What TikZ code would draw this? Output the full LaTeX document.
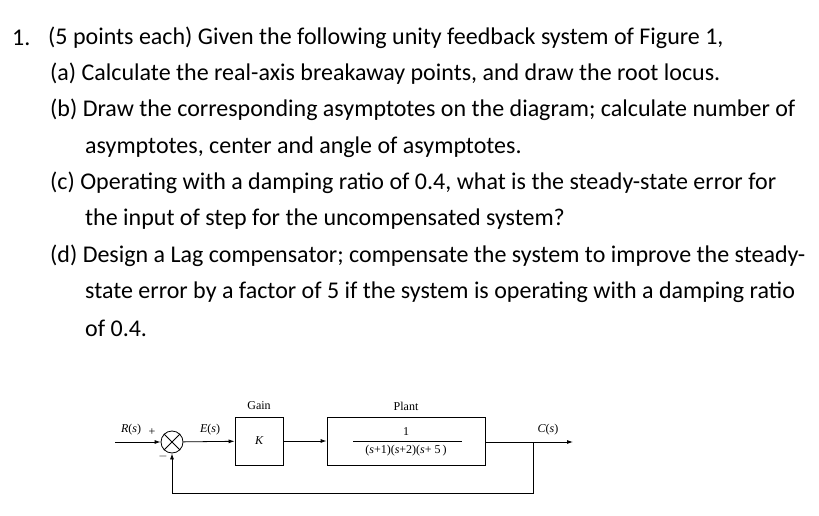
\documentclass[tikz,border=0pt]{standalone}
\usepackage{fontspec}
\setmainfont{Carlito}
\newfontfamily\tms{Liberation Serif}
\usetikzlibrary{arrows.meta}
\begin{document}
\begin{tikzpicture}[x=1pt,y=-1pt,
  txt/.style={anchor=west,inner sep=0pt,font=\fontsize{24}{28}\selectfont},
  dg/.style={inner sep=1pt,font=\tms\fontsize{12}{14}\selectfont},
  blk/.style={draw,line width=0.8pt},
  sig/.style={line width=0.8pt,-{Latex[length=6pt,width=4pt]}},
  ln/.style={line width=0.8pt}]
\useasboundingbox (0,0) rectangle (819,516);
\node[txt] (n1) at (12,38) {1.};
\node[txt] (l1) at (48,38) {(5 points each) Given the following unity feedback system of Figure 1,};
\node[txt] (l2) at (50,74) {(a) Calculate the real-axis breakaway points, and draw the root locus.};
\node[txt] (l3) at (50,110) {(b) Draw the corresponding asymptotes on the diagram; calculate number of};
\node[txt] (l4) at (85,147) {asymptotes, center and angle of asymptotes.};
\node[txt] (l5) at (50,183) {(c) Operating with a damping ratio of 0.4, what is the steady-state error for};
\node[txt] (l6) at (85,219) {the input of step for the uncompensated system?};
\node[txt] (l7) at (50,256) {(d) Design a Lag compensator; compensate the system to improve the steady-};
\node[txt] (l8) at (85,292) {state error by a factor of 5 if the system is operating with a damping ratio};
\node[txt] (l9) at (85,328) {of 0.4.};
% diagram
\coordinate (in) at (115,442);
\node[draw,circle,minimum size=22pt,inner sep=0pt,line width=0.8pt] (sum) at (172,442) {};
\draw[ln] (sum.45) -- (sum.225) (sum.135) -- (sum.315);
\node[blk,minimum width=48pt,minimum height=48pt] (gain) at (259,441) {};
\node[dg,font=\tms\itshape\fontsize{12}{14}\selectfont] (K) at (259,441) {K};
\node[blk,minimum width=158pt,minimum height=48pt] (plant) at (406,441) {};
\node[dg] (num) at (406,432) {1};
\draw[line width=0.6pt] (353,441) -- (462,441);
\node[dg] (den) at (406,451) {(\textit{s}+1)(\textit{s}+2)(\textit{s}+ 5\,)};
\node[dg] (gl) at (259,406) {Gain};
\node[dg] (pl) at (406,406) {Plant};
\node[dg] (rl) at (131,430) {\textit{R}(\textit{s})};
\node[dg] (pp) at (152,432) {+};
\node[dg] (mm) at (163,456) {$-$};
\node[dg] (el) at (210,430) {\textit{E}(\textit{s})};
\node[dg] (cl) at (548,430) {\textit{C}(\textit{s})};
\coordinate (tap) at (533,442);
\coordinate (out) at (573,442);
\coordinate (b1) at (533,493);
\coordinate (b2) at (172,493);
\draw[sig] (in) -- (sum);
\draw[sig] (sum) -- (gain);
\draw[sig] (gain) -- (plant);
\draw[sig] (plant.east |- tap) -- (out);
\draw[sig] (tap) -- (b1) -- (b2) -- (sum);
\end{tikzpicture}
\end{document}
